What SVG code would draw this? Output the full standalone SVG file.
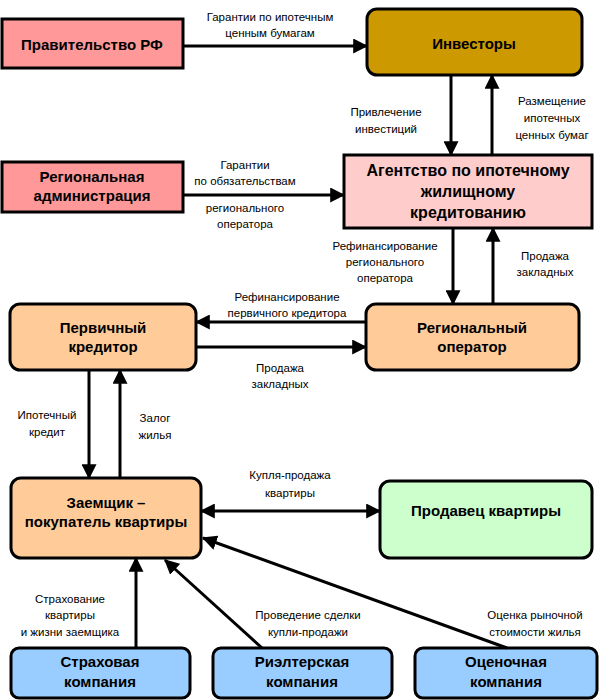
<svg xmlns="http://www.w3.org/2000/svg" width="610" height="700" viewBox="0 0 610 700">
<style>
.n{stroke:#000;stroke-width:3}
.t{font-family:"Liberation Sans",Arial,sans-serif;font-weight:bold;font-size:15px;text-anchor:middle}
.l{font-family:"Liberation Sans",Arial,sans-serif;font-size:11.5px;text-anchor:middle}
.c{stroke:#000;stroke-width:3;fill:none;marker-end:url(#a)}
</style>
<defs><marker id="a" markerWidth="5" markerHeight="5" refX="4.6" refY="2.5" orient="auto" markerUnits="strokeWidth"><path d="M0,0L5,2.5L0,5z"/></marker>
<marker id="b" markerWidth="5" markerHeight="5" refX="0.4" refY="2.5" orient="auto" markerUnits="strokeWidth"><path d="M5,0L0,2.5L5,5z"/></marker></defs>
<g id="pravitelstvo"><rect class="n" x="2" y="19" width="181" height="49" fill="#FF9999"/><text class="t" x="92" y="50">Правительство РФ</text></g>
<g id="investory"><rect class="n" x="367" y="9" width="215" height="66" rx="10" fill="#CC9900"/><text class="t" x="474" y="49">Инвесторы</text></g>
<g id="admin"><rect class="n" x="2" y="162" width="181" height="50" fill="#FF9999"/><text class="t" x="92" y="182">Региональная</text><text class="t" x="92" y="201">администрация</text></g>
<g id="agentstvo"><rect class="n" x="344" y="155" width="248" height="73" fill="#FFCCCC"/><text class="t" x="468" y="176" style="font-size:16px">Агентство по ипотечному</text><text class="t" x="468" y="197" style="font-size:16px">жилищному</text><text class="t" x="468" y="218" style="font-size:16px">кредитованию</text></g>
<g id="pervichny"><rect class="n" x="10" y="304" width="186" height="66" rx="10" fill="#FFCC99"/><text class="t" x="103" y="333">Первичный</text><text class="t" x="103" y="352">кредитор</text></g>
<g id="regoperator"><rect class="n" x="366" y="304" width="213" height="66" rx="10" fill="#FFCC99"/><text class="t" x="472" y="333">Региональный</text><text class="t" x="472" y="352">оператор</text></g>
<g id="zaemshik"><rect class="n" x="11" y="478" width="190" height="80" rx="10" fill="#FFCC99"/><text class="t" x="106" y="508">Заемщик –</text><text class="t" x="106" y="527">покупатель квартиры</text></g>
<g id="prodavec"><rect class="n" x="380" y="481" width="212" height="77" rx="10" fill="#CCFFCC"/><text class="t" x="486" y="516">Продавец квартиры</text></g>
<g id="strakhovaya"><rect class="n" x="11" y="648" width="179" height="50" rx="8" fill="#99CCFF"/><text class="t" x="100" y="667">Страховая</text><text class="t" x="100" y="687">компания</text></g>
<g id="rieltor"><rect class="n" x="213" y="648" width="179" height="50" rx="8" fill="#99CCFF"/><text class="t" x="302" y="667">Риэлтерская</text><text class="t" x="302" y="687">компания</text></g>
<g id="ocenochnaya"><rect class="n" x="415" y="648" width="182" height="50" rx="8" fill="#99CCFF"/><text class="t" x="506" y="667">Оценочная</text><text class="t" x="506" y="687">компания</text></g>
<g id="connectors">
<path class="c" d="M183,46H367"/>
<path class="c" d="M451,75V155"/>
<path class="c" d="M492,155V75"/>
<path class="c" d="M183,195H344"/>
<path class="c" d="M453,228V304"/>
<path class="c" d="M493,304V228"/>
<path class="c" d="M366,322H196"/>
<path class="c" d="M196,347H366"/>
<path class="c" d="M89,370V478"/>
<path class="c" d="M120,478V370"/>
<path class="c" d="M201,511H380" style="marker-start:url(#b)"/>
<path class="c" d="M136,648V558"/>
<path class="c" d="M262,648L165,560"/>
<path class="c" d="M507,648L203,538"/>
</g>
<g id="labels">
<text class="l" x="270" y="21">Гарантии по ипотечным</text><text class="l" x="270" y="37">ценным бумагам</text>
<text class="l" x="386" y="116">Привлечение</text><text class="l" x="386" y="133">инвестиций</text>
<text class="l" x="552" y="105">Размещение</text><text class="l" x="552" y="122">ипотечных</text><text class="l" x="552" y="139">ценных бумаг</text>
<text class="l" x="245" y="169">Гарантии</text><text class="l" x="245" y="185">по обязательствам</text>
<text class="l" x="245" y="212">регионального</text><text class="l" x="245" y="228">оператора</text>
<text class="l" x="385" y="250">Рефинансирование</text><text class="l" x="385" y="266">регионального</text><text class="l" x="385" y="282">оператора</text>
<text class="l" x="545" y="260">Продажа</text><text class="l" x="545" y="276">закладных</text>
<text class="l" x="287" y="301">Рефинансирование</text><text class="l" x="287" y="317">первичного кредитора</text>
<text class="l" x="280" y="372">Продажа</text><text class="l" x="280" y="388">закладных</text>
<text class="l" x="47" y="419">Ипотечный</text><text class="l" x="47" y="436">кредит</text>
<text class="l" x="155" y="422">Залог</text><text class="l" x="155" y="439">жилья</text>
<text class="l" x="290" y="479">Купля-продажа</text><text class="l" x="290" y="497">квартиры</text>
<text class="l" x="70" y="603">Страхование</text><text class="l" x="70" y="619">квартиры</text><text class="l" x="70" y="636">и жизни заемщика</text>
<text class="l" x="308" y="619">Проведение сделки</text><text class="l" x="308" y="636">купли-продажи</text>
<text class="l" x="535" y="619">Оценка рыночной</text><text class="l" x="535" y="636">стоимости жилья</text>
</g>
</svg>
